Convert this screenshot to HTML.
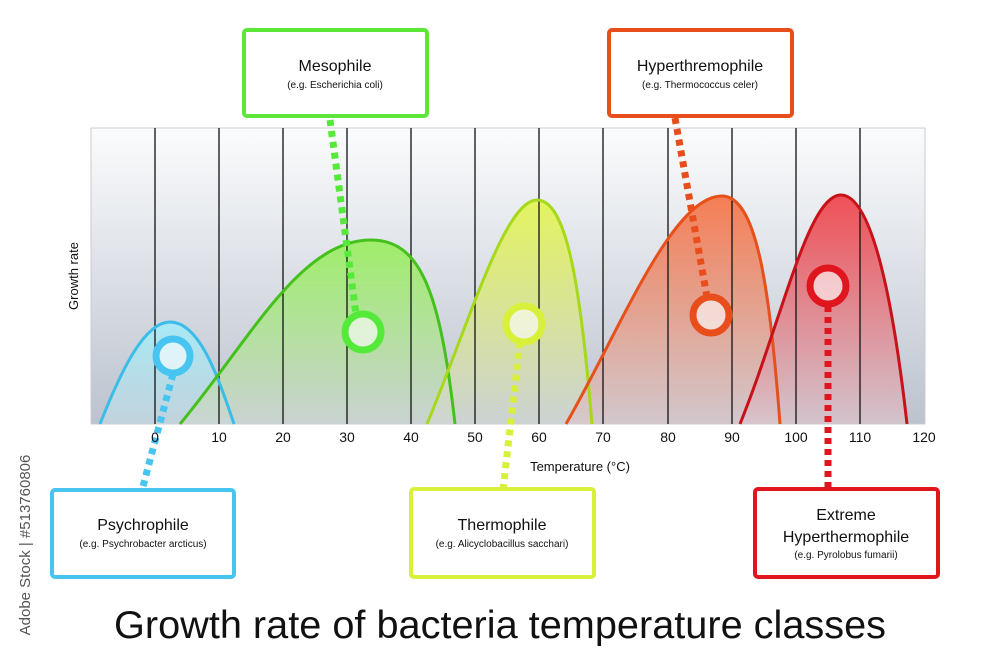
<!DOCTYPE html><html><head><meta charset="utf-8"><style>
body{margin:0;background:#fff;width:1000px;height:667px;overflow:hidden;font-family:"Liberation Sans",sans-serif}
</style></head><body>
<svg width="1000" height="667" viewBox="0 0 1000 667" xmlns="http://www.w3.org/2000/svg" font-family="Liberation Sans, sans-serif">
<defs>
<linearGradient id="bg" x1="0" y1="0" x2="0" y2="1"><stop offset="0" stop-color="#fbfcfd"/><stop offset="1" stop-color="#bcc3cf"/></linearGradient>
<linearGradient id="gb" x1="0" y1="0" x2="0" y2="1"><stop offset="0" stop-color="#9eeefa"/><stop offset="1" stop-color="#c4d6e0"/></linearGradient>
<linearGradient id="gg" x1="0" y1="0" x2="0" y2="1"><stop offset="0" stop-color="#8ef04a"/><stop offset="1" stop-color="#cdd6d2"/></linearGradient>
<linearGradient id="gy" x1="0" y1="0" x2="0" y2="1"><stop offset="0" stop-color="#e2f53a"/><stop offset="1" stop-color="#d0d6d4"/></linearGradient>
<linearGradient id="go" x1="0" y1="0" x2="0" y2="1"><stop offset="0" stop-color="#f7622e"/><stop offset="1" stop-color="#d8c8cc"/></linearGradient>
<linearGradient id="gr" x1="0" y1="0" x2="0" y2="1"><stop offset="0" stop-color="#f02830"/><stop offset="1" stop-color="#d8c4cc"/></linearGradient>
</defs>
<rect x="91" y="128" width="834" height="296" fill="url(#bg)" stroke="#c8ccd2"/>
<g fill-opacity="0.8">
<path d="M100,424 C122,368 145,322 170,322 C198,322 216,370 234,424Z" fill="url(#gb)"/>
<path d="M180,424 C250,340 300,240 371,240 C420,240 440,290 455,424Z" fill="url(#gg)"/>
<path d="M427,424 C470,320 505,200 537,200 C566,200 580,280 592,424Z" fill="url(#gy)"/>
<path d="M566,424 C620,330 672,196 722,196 C757,196 770,290 780,424Z" fill="url(#go)"/>
<path d="M740,424 C782,320 808,195 841,195 C872,195 893,300 907,424Z" fill="url(#gr)"/>
</g>
<g stroke="#111" stroke-width="1.3">
<line x1="155" y1="128" x2="155" y2="424"/><line x1="219" y1="128" x2="219" y2="424"/><line x1="283" y1="128" x2="283" y2="424"/><line x1="347" y1="128" x2="347" y2="424"/><line x1="411" y1="128" x2="411" y2="424"/><line x1="475" y1="128" x2="475" y2="424"/><line x1="539" y1="128" x2="539" y2="424"/><line x1="603" y1="128" x2="603" y2="424"/><line x1="668" y1="128" x2="668" y2="424"/><line x1="732" y1="128" x2="732" y2="424"/><line x1="796" y1="128" x2="796" y2="424"/><line x1="860" y1="128" x2="860" y2="424"/>
</g>
<g stroke-width="3" fill="none">
<path d="M100,424 C122,368 145,322 170,322 C198,322 216,370 234,424" stroke="#3bbde8"/>
<path d="M180,424 C250,340 300,240 371,240 C420,240 440,290 455,424" stroke="#45c01c"/>
<path d="M427,424 C470,320 505,200 537,200 C566,200 580,280 592,424" stroke="#a6d81c"/>
<path d="M566,424 C620,330 672,196 722,196 C757,196 770,290 780,424" stroke="#e6501a"/>
<path d="M740,424 C782,320 808,195 841,195 C872,195 893,300 907,424" stroke="#c8121a"/>
</g>
<g stroke-width="7" stroke-dasharray="6,5" fill="none">
<line x1="173" y1="374" x2="142" y2="490" stroke="#48c4f0"/>
<line x1="330" y1="120" x2="356" y2="314" stroke="#55ea3a"/>
<line x1="520" y1="342" x2="503" y2="490" stroke="#d8f03a"/>
<line x1="675" y1="118" x2="707" y2="297" stroke="#e84e1c"/>
<line x1="828" y1="306" x2="828" y2="488" stroke="#e0161e"/>
</g>
<g stroke-width="7" fill="#fff" fill-opacity="0.6">
<circle cx="173" cy="356" r="17" stroke="#48c4f0"/>
<circle cx="363" cy="332" r="18" stroke="#55ea3a"/>
<circle cx="524" cy="324" r="18" stroke="#d8f03a"/>
<circle cx="711" cy="315" r="18" stroke="#e84e1c"/>
<circle cx="828" cy="286" r="18" stroke="#e0161e"/>
</g>
<g fill="#fff" stroke-width="4">
<rect x="244" y="30" width="183" height="86" rx="3" stroke="#5de63a"/>
<rect x="609" y="30" width="183" height="86" rx="3" stroke="#e84e1c"/>
<rect x="52" y="490" width="182" height="87" rx="3" stroke="#48c4f0"/>
<rect x="411" y="489" width="183" height="88" rx="3" stroke="#d8f03a"/>
<rect x="755" y="489" width="183" height="88" rx="3" stroke="#e0161e"/>
</g>
<g text-anchor="middle" fill="#111">
<text x="335" y="71" font-size="16">Mesophile</text><text x="335" y="88" font-size="10">(e.g. Escherichia coli)</text>
<text x="700" y="71" font-size="16">Hyperthremophile</text><text x="700" y="88" font-size="10">(e.g. Thermococcus celer)</text>
<text x="143" y="530" font-size="16">Psychrophile</text><text x="143" y="547" font-size="10">(e.g. Psychrobacter arcticus)</text>
<text x="502" y="530" font-size="16">Thermophile</text><text x="502" y="547" font-size="10">(e.g. Alicyclobacillus sacchari)</text>
<text x="846" y="520" font-size="16">Extreme</text><text x="846" y="542" font-size="16">Hyperthermophile</text><text x="846" y="558" font-size="10">(e.g. Pyrolobus fumarii)</text>
<g font-size="14"><text x="155" y="442">0</text><text x="219" y="442">10</text><text x="283" y="442">20</text><text x="347" y="442">30</text><text x="411" y="442">40</text><text x="475" y="442">50</text><text x="539" y="442">60</text><text x="603" y="442">70</text><text x="668" y="442">80</text><text x="732" y="442">90</text><text x="796" y="442">100</text><text x="860" y="442">110</text><text x="924" y="442">120</text></g>
<text x="580" y="471" font-size="13">Temperature (°C)</text>
<text x="500" y="638" font-size="39" textLength="772" lengthAdjust="spacingAndGlyphs">Growth rate of bacteria temperature classes</text>
</g>
<text transform="translate(78,276) rotate(-90)" text-anchor="middle" font-size="13" fill="#111">Growth rate</text>
<text transform="translate(30,545) rotate(-90)" text-anchor="middle" font-size="15" fill="#555">Adobe Stock | #513760806</text>
</svg>
</body></html>
